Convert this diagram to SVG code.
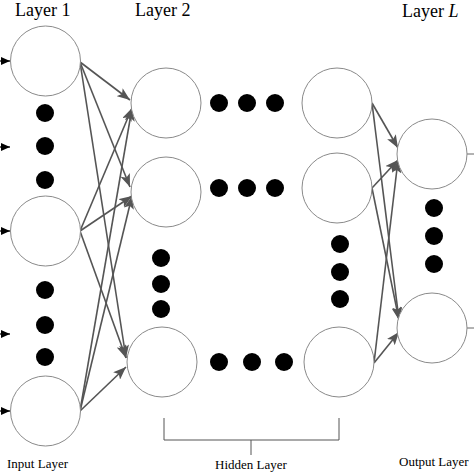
<svg xmlns="http://www.w3.org/2000/svg" width="474" height="474" viewBox="0 0 474 474">
<style>
.node{fill:#fff;stroke:#8a8a8a;stroke-width:1}
.dot{fill:#000}
.edge{stroke:#555;stroke-width:1.6;fill:none;marker-end:url(#ah)}
.inp{stroke:#000;stroke-width:1.2;marker-end:url(#ai)}
.out{stroke:#666;stroke-width:1}
.t{font-family:"Liberation Serif","Times New Roman",serif;fill:#000}
.br{stroke:#555;stroke-width:1;fill:none}
</style>
<defs>
<marker id="ah" markerUnits="userSpaceOnUse" markerWidth="14" markerHeight="10" refX="13" refY="5" orient="auto">
<path d="M0,0 L13,5 L0,10 L3,5 Z" fill="#555"/>
</marker>
<marker id="ai" markerUnits="userSpaceOnUse" markerWidth="10" markerHeight="8" refX="9" refY="4" orient="auto">
<path d="M0,0 L9,4 L0,8 Z" fill="#000"/>
</marker>
</defs>
<rect width="474" height="474" fill="#fff"/>
<g id="labels">
<text class="t" x="15" y="16" font-size="18">Layer 1</text>
<text class="t" x="135" y="16" font-size="18">Layer 2</text>
<text class="t" x="402" y="17" font-size="18">Layer <tspan font-style="italic">L</tspan></text>
<text class="t" x="7" y="468" font-size="13">Input Layer</text>
<text class="t" x="215" y="469" font-size="13">Hidden Layer</text>
<text class="t" x="399" y="466" font-size="13">Output Layer</text>
</g>
<g id="connectors">
<line class="inp" x1="0" y1="61" x2="10" y2="61"/>
<line class="inp" x1="0" y1="147" x2="10" y2="147"/>
<line class="inp" x1="0" y1="231" x2="10" y2="231"/>
<line class="inp" x1="0" y1="334" x2="10" y2="334"/>
<line class="inp" x1="0" y1="411" x2="10" y2="411"/>
<line class="edge" x1="80" y1="62" x2="130" y2="100"/>
<line class="edge" x1="80" y1="62" x2="130" y2="187"/>
<line class="edge" x1="80" y1="62" x2="126" y2="358"/>
<line class="edge" x1="80" y1="231" x2="132" y2="108"/>
<line class="edge" x1="80" y1="231" x2="132" y2="196"/>
<line class="edge" x1="80" y1="231" x2="126" y2="358"/>
<line class="edge" x1="80" y1="411" x2="132" y2="108"/>
<line class="edge" x1="80" y1="411" x2="132" y2="196"/>
<line class="edge" x1="80" y1="411" x2="126" y2="367"/>
<line class="edge" x1="372" y1="103" x2="398" y2="148"/>
<line class="edge" x1="372" y1="103" x2="399" y2="320"/>
<line class="edge" x1="372" y1="188" x2="398" y2="160"/>
<line class="edge" x1="372" y1="188" x2="399" y2="320"/>
<line class="edge" x1="374" y1="363" x2="398" y2="160"/>
<line class="edge" x1="374" y1="363" x2="399" y2="332"/>
<line class="out" x1="467" y1="154" x2="474" y2="154"/>
<line class="out" x1="467" y1="328" x2="474" y2="328"/>
</g>
<g id="l1n1"><circle class="node" cx="45.5" cy="61" r="35"/></g>
<g id="l1n2"><circle class="node" cx="45.5" cy="231" r="35"/></g>
<g id="l1n3"><circle class="node" cx="45.5" cy="411" r="35"/></g>
<g id="l1dots">
<circle class="dot" cx="45" cy="113" r="9"/>
<circle class="dot" cx="45" cy="146" r="9"/>
<circle class="dot" cx="45" cy="180" r="9"/>
<circle class="dot" cx="45" cy="290" r="9"/>
<circle class="dot" cx="45" cy="325" r="9"/>
<circle class="dot" cx="45" cy="357" r="9"/>
</g>
<g id="l2n1"><circle class="node" cx="166" cy="103" r="35"/></g>
<g id="l2n2"><circle class="node" cx="166" cy="192" r="35"/></g>
<g id="l2n3"><circle class="node" cx="162" cy="362" r="35"/></g>
<g id="l2dots">
<circle class="dot" cx="161" cy="258" r="9"/>
<circle class="dot" cx="161" cy="284" r="9"/>
<circle class="dot" cx="161" cy="309" r="9"/>
</g>
<g id="hdots">
<circle class="dot" cx="219" cy="103" r="9"/>
<circle class="dot" cx="247" cy="103" r="9"/>
<circle class="dot" cx="275" cy="103" r="9"/>
<circle class="dot" cx="219" cy="188" r="9"/>
<circle class="dot" cx="247" cy="188" r="9"/>
<circle class="dot" cx="275" cy="188" r="9"/>
<circle class="dot" cx="219" cy="362" r="9"/>
<circle class="dot" cx="252" cy="362" r="9"/>
<circle class="dot" cx="284" cy="362" r="9"/>
</g>
<g id="lk1"><circle class="node" cx="337" cy="103" r="35"/></g>
<g id="lk2"><circle class="node" cx="337" cy="188" r="35"/></g>
<g id="lk3"><circle class="node" cx="339" cy="362" r="35"/></g>
<g id="lkdots">
<circle class="dot" cx="340" cy="244" r="9"/>
<circle class="dot" cx="340" cy="272" r="9"/>
<circle class="dot" cx="340" cy="299" r="9"/>
</g>
<g id="o1"><circle class="node" cx="432" cy="154" r="35"/></g>
<g id="o2"><circle class="node" cx="432" cy="328" r="35"/></g>
<g id="odots">
<circle class="dot" cx="434" cy="208" r="9"/>
<circle class="dot" cx="434" cy="236" r="9"/>
<circle class="dot" cx="434" cy="264" r="9"/>
</g>
<g id="bracket">
<path class="br" d="M164,418 V440 H339 V418 M251,440 V455"/>
</g>
</svg>
